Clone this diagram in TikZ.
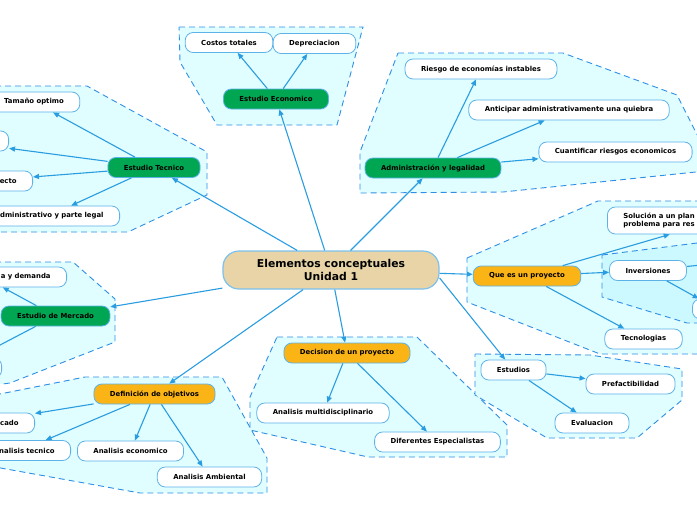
\documentclass[tikz,border=0pt]{standalone}
\usepackage{fontspec}
\setmainfont{DejaVu Sans}
\usetikzlibrary{arrows.meta}
\definecolor{verde}{HTML}{00A651}
\definecolor{naranja}{HTML}{FBB416}
\definecolor{arena}{HTML}{E8D4A6}
\definecolor{borde}{HTML}{5DB2E8}
\definecolor{linea}{HTML}{2A9DE0}
\definecolor{guion}{HTML}{2E8FE4}
\definecolor{cielo}{HTML}{E0FDFF}
\definecolor{cielo2}{HTML}{CCF8FF}
\begin{document}
\begin{tikzpicture}[x=1pt, y=-1pt,
    font=\bfseries\fontsize{6.9}{8.3}\selectfont,
    caja/.style={draw=borde, line width=0.8pt, rounded corners=8pt, minimum height=20pt, inner xsep=16pt, inner ysep=1pt},
    idea/.style={caja, fill=arena, draw=borde!80, line width=1.2pt, rounded corners=16pt, minimum height=38pt, inner xsep=34pt, align=center, font=\bfseries\fontsize{10.8}{13.5}\selectfont},
    tema/.style={caja, fill=verde},
    rama/.style={caja, fill=naranja},
    hoja/.style={caja, fill=white},
    flecha/.style={draw=linea, line width=1.1pt, -{Triangle[length=6pt,width=5pt]}},
    grupo/.style={draw=guion, fill=cielo, line width=0.9pt, dash pattern=on 6pt off 4pt},
    subgrupo/.style={grupo, fill=cielo2}]
    \useasboundingbox (0,0) rectangle (697,520);
    \draw [grupo] (179,27) -- (363,27) -- (337,125) -- (217,125) -- (180,62) -- cycle;
    \draw [grupo] (-5,86) -- (87,86) -- (207,152) -- (207,195) -- (128,232) -- (-5,232) -- cycle;
    \draw [grupo] (398,53) -- (563,53) -- (677,95) -- (715,170) -- (503,192) -- (360,193) -- (360,152) -- cycle;
    \draw [grupo] (-5,262) -- (73,262) -- (115,299) -- (115,342) -- (10,383) -- (-5,385) -- cycle;
    \draw [grupo] (-5,395) -- (85,377) -- (222,377) -- (267,458) -- (267,493) -- (140,493) -- (-5,467) -- cycle;
    \draw [grupo] (277,337) -- (417,337) -- (507,425) -- (507,457) -- (368,457) -- (250,430) -- (250,397) -- cycle;
    \draw [grupo] (467,258) -- (598,201) -- (705,201) -- (705,354) -- (600,354) -- (467,302) -- cycle;
    \draw [subgrupo] (602,255) -- (705,242) -- (705,323) -- (687,323) -- (602,297) -- cycle;
    \draw [grupo] (475,354) -- (590,355) -- (682,369) -- (682,400) -- (637,438) -- (547,438) -- (475,395) -- cycle;
    \node [idea] (c) at (331,270) {Elementos conceptuales\\Unidad 1};
    \node [tema] (eco) at (276,99) {Estudio Economico};
    \node [hoja] (cos) at (229,42.5) {Costos totales};
    \node [hoja] (dep) at (314.5,43.5) {Depreciacion};
    \node [tema] (tec) at (154,167.5) {Estudio Tecnico};
    \node [hoja] (tam) at (34,102) {Tamaño optimo};
    \node [hoja, anchor=east, minimum width=110pt] (loc) at (9,141) {};
    \node [hoja, anchor=east, text width=72pt, align=right] (ing) at (33,181) {ecto};
    \node [hoja, anchor=east, text width=110pt, align=right] (org) at (120,216) {dministrativo y parte legal};
    \node [tema] (adm) at (433,168) {Administración y legalidad};
    \node [hoja] (rie) at (481,69) {Riesgo de economías instables};
    \node [hoja] (ant) at (569,110) {Anticipar administrativamente una quiebra};
    \node [hoja] (cua) at (615.5,152) {Cuantificar riesgos economicos};
    \node [tema] (mer) at (55.5,316) {Estudio de Mercado};
    \node [hoja, anchor=east, text width=134pt, align=right] (ofe) at (67,277) {a y demanda};
    \node [hoja, anchor=east, minimum width=91pt] (dem) at (2,368) {};
    \node [rama] (def) at (154.5,394) {Definición de objetivos};
    \node [hoja, anchor=east, text width=85pt, align=right] (amer) at (35,423) {cado};
    \node [hoja, anchor=east, text width=67pt, align=right] (atec) at (71,450.5) {nalisis tecnico};
    \node [hoja] (aeco) at (130.5,451) {Analisis economico};
    \node [hoja] (aamb) at (209.5,477) {Analisis Ambiental};
    \node [rama] (dec) at (347,353) {Decision de un proyecto};
    \node [hoja] (mul) at (323,413) {Analisis multidisciplinario};
    \node [hoja] (esp) at (437.5,442) {Diferentes Especialistas};
    \node [rama] (que) at (527,276) {Que es un proyecto};
    \node [hoja, anchor=west, text width=188pt, align=left, minimum height=27pt] (sol) at (607,220.5) {Solución a un plan\\problema para res};
    \node [hoja] (inv) at (648,270.5) {Inversiones};
    \node [hoja, anchor=west, minimum width=50pt] (inv2) at (692,309) {};
    \coordinate (inv1) at (730,262);
    \node [hoja] (tecn) at (643.5,339) {Tecnologias};
    \node [hoja] (est) at (513.5,370) {Estudios};
    \node [hoja] (pre) at (630.5,384) {Prefactibilidad};
    \node [hoja] (eva) at (592,423) {Evaluacion};
    \draw [flecha] (c) to (eco);
    \draw [flecha] (c) to (tec);
    \draw [flecha] (c) to (adm);
    \draw [flecha] (c) to (mer);
    \draw [flecha] (c) to (def);
    \draw [flecha] (c) to (dec);
    \draw [flecha] (c) to (que);
    \draw [flecha] ([yshift=-8pt]c.east) to (est);
    \draw [flecha] (eco) to (cos);
    \draw [flecha] (eco) to (dep);
    \draw [flecha] (tec) to (tam);
    \draw [flecha] (tec) to (loc);
    \draw [flecha] (tec) to (ing);
    \draw [flecha] (tec) to (org);
    \draw [flecha] (adm) to (rie);
    \draw [flecha] (adm) to (ant);
    \draw [flecha] (adm) to (cua);
    \draw [flecha] (mer) to (ofe);
    \draw [flecha] (mer) to (dem);
    \draw [flecha] (def) to (amer);
    \draw [flecha] (def) to (atec);
    \draw [flecha] (def) to (aeco);
    \draw [flecha] (def) to (aamb);
    \draw [flecha] (dec) to (mul);
    \draw [flecha] (dec) to (esp);
    \draw [flecha] (que) to (sol);
    \draw [flecha] (que) to (inv);
    \draw [flecha] (que) to (tecn);
    \draw [flecha] (inv) to (inv1);
    \draw [flecha] (inv) to (inv2);
    \draw [flecha] (est) to (pre);
    \draw [flecha] (est) to (eva);
\end{tikzpicture}
\end{document}
